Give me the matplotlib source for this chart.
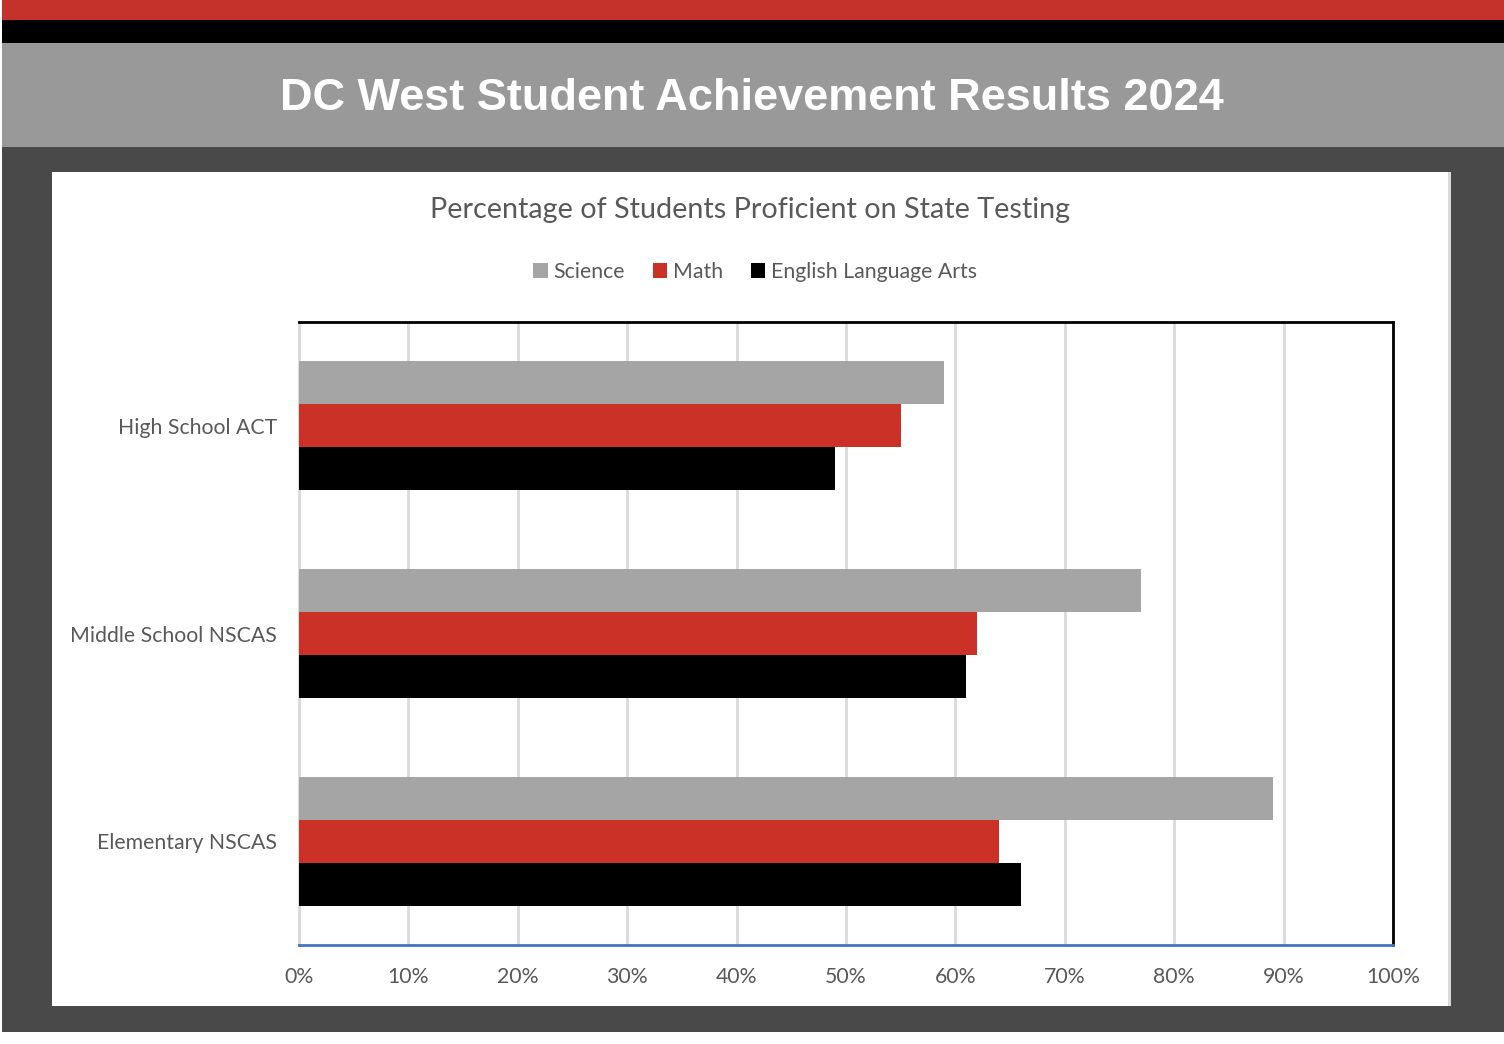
import matplotlib
matplotlib.use("Agg")
import matplotlib.pyplot as plt
from matplotlib.patches import Rectangle
from matplotlib.ticker import PercentFormatter
import numpy as np

W, H = 1504, 1044

# data
categories = ["High School ACT", "Middle School NSCAS", "Elementary NSCAS"]
science = [59, 77, 89]
math = [55, 62, 64]
ela = [49, 61, 66]
series_names = ["Science", "Math", "English Language Arts"]
series_colors = ["#A5A5A5", "#CC3128", "#000000"]

plt.rcParams["font.family"] = ["Lato", "DejaVu Sans"]

fig = plt.figure(figsize=(W / 100, H / 100), dpi=100)
fig.patch.set_facecolor("white")


def box(x0, y0, x1, y1, color):
    # pixel box (top-left origin) -> figure fraction
    fig.patches.append(Rectangle((x0 / W, 1 - y1 / H), (x1 - x0) / W, (y1 - y0) / H,
                                 transform=fig.transFigure, facecolor=color,
                                 edgecolor="none", zorder=-10))


box(2, 0, 1504, 20, "#C4322B")
box(2, 20, 1504, 43, "#000000")
box(2, 43, 1504, 147, "#999999")
box(2, 147, 1504, 1032, "#494949")
box(52, 172, 1451, 1006, "#FFFFFF")
box(1448, 172, 1451, 1006, "#D9D9D9")

fig.text(752 / W, 1 - 99 / H, "DC West Student Achievement Results 2024",
         ha="center", va="center", color="white", fontsize=32.5, fontweight="bold",
         family=["Liberation Sans", "DejaVu Sans"])

fig.text(750 / W, 1 - 210 / H, "Percentage of Students Proficient on State Testing",
         ha="center", va="center", color="#595959", fontsize=20.7)

ax = fig.add_axes([299 / W, (H - 945) / H, (1393 - 299) / W, (945 - 322) / H])
ax.set_facecolor("none")

y = np.arange(len(categories))
h = 0.207
vals = [science, math, ela]
for i in range(3):
    ax.barh(y - h + i * h, vals[i], height=h, color=series_colors[i],
            label=series_names[i], zorder=3)

ax.set_xlim(0, 100)
ax.set_ylim(len(categories) - 0.5, -0.5)
ax.set_xticks(np.arange(0, 101, 10))
ax.xaxis.set_major_formatter(PercentFormatter(decimals=0))
ax.set_yticks(y)
ax.set_yticklabels(categories)
ax.tick_params(axis="both", length=0, colors="#595959", labelsize=15.3)
ax.tick_params(axis="x", pad=16)
ax.tick_params(axis="y", pad=16)
ax.grid(axis="x", color="#D9D9D9", linewidth=2, zorder=0)

ax.spines["top"].set_color("black")
ax.spines["top"].set_linewidth(2)
ax.spines["right"].set_color("black")
ax.spines["right"].set_linewidth(2)
ax.spines["left"].set_color("#D9D9D9")
ax.spines["left"].set_linewidth(2)
ax.spines["bottom"].set_color("#4472C4")
ax.spines["bottom"].set_linewidth(2)

leg = fig.legend(loc="center", bbox_to_anchor=(755 / W, 1 - 272 / H), ncol=3,
                 frameon=False, fontsize=15.3, handlelength=0.7, handleheight=0.7,
                 handletextpad=0.25, columnspacing=1.3)
for t in leg.get_texts():
    t.set_color("#595959")

fig.savefig("out.png", dpi=100)
